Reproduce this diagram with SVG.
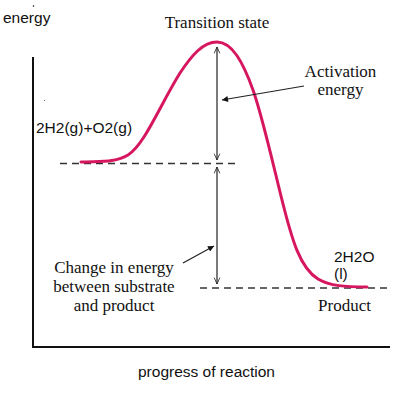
<svg xmlns="http://www.w3.org/2000/svg" width="399" height="403" viewBox="0 0 399 403">
<style>
.sans{font-family:"Liberation Sans",Arial,sans-serif;font-size:15.5px;fill:#111}
.serif{font-family:"Liberation Serif","Times New Roman",serif;font-size:17px;fill:#111}
.axis{stroke:#111;stroke-width:2;fill:none}
.dash{stroke:#333;stroke-width:1.5;stroke-dasharray:7,5;fill:none}
.dim{stroke:#222;stroke-width:1.2;fill:none}
.curve{stroke:#d6175f;stroke-width:3;fill:none;stroke-linecap:round}
</style>
<defs>
<marker id="open" viewBox="0 0 10 10" refX="10" refY="5" markerWidth="7" markerHeight="9" markerUnits="userSpaceOnUse" orient="auto-start-reverse">
<path d="M1,1 L10,5 L1,9" fill="none" stroke="#222" stroke-width="1.2"/>
</marker>
<marker id="solid" viewBox="0 0 10 10" refX="10" refY="5" markerWidth="9" markerHeight="6" markerUnits="userSpaceOnUse" orient="auto">
<path d="M0,0 L10,5 L0,10 z" fill="#111"/>
</marker>
</defs>
<g id="axes">
<path class="axis" d="M33,57 V347 H390"/>
</g>
<g id="levels">
<line class="dash" x1="60" y1="163.5" x2="236" y2="163.5"/>
<line class="dash" x1="200" y1="288" x2="390" y2="288"/>
</g>
<g id="curve">
<path class="curve" d="M81,162 C100,161 115,163 128,155 C145,144 160,105 180,73 C192,55 203,42 217,42 C232,42 243,62 253,90 C262,115 272,160 282,200 C292,240 300,268 318,279 C330,286 345,287 367,287"/>
</g>
<g id="connectors">
<line class="dim" x1="217" y1="47" x2="217" y2="160" marker-start="url(#open)" marker-end="url(#open)"/>
<line class="dim" x1="217" y1="167" x2="217" y2="284" marker-start="url(#open)" marker-end="url(#open)"/>
<line class="dim" x1="304" y1="86" x2="222" y2="100" marker-end="url(#solid)"/>
<line class="dim" x1="183" y1="263" x2="214" y2="246" marker-end="url(#solid)"/>
</g>
<g id="label-energy"><text class="sans" x="3" y="23">energy</text><circle cx="33.5" cy="6" r="0.8" fill="#111"/></g>
<g id="label-reactants"><text class="sans" x="36" y="133">2H2(g)+O2(g)</text><circle cx="44.5" cy="100.5" r="0.6" fill="#555"/></g>
<g id="label-transition"><text class="serif" x="217" y="28" text-anchor="middle">Transition state</text></g>
<g id="label-activation"><text class="serif" x="340.5" y="77" text-anchor="middle">Activation</text><text class="serif" x="340.5" y="95" text-anchor="middle">energy</text></g>
<g id="label-change"><text class="serif" x="114" y="273" text-anchor="middle">Change in energy</text><text class="serif" x="114" y="292" text-anchor="middle">between substrate</text><text class="serif" x="114" y="311" text-anchor="middle">and product</text></g>
<g id="label-product-formula"><text class="sans" x="334" y="262">2H2O</text><text class="sans" x="334" y="279">(l)</text></g>
<g id="label-product"><text class="serif" x="344.5" y="311" text-anchor="middle">Product</text></g>
<g id="label-xaxis"><text class="sans" x="206.5" y="377" text-anchor="middle">progress of reaction</text></g>
</svg>
